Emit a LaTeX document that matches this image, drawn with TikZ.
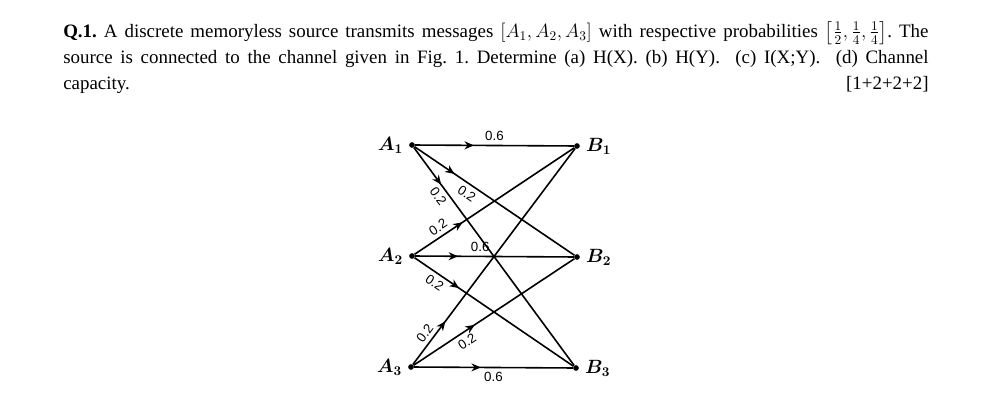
\documentclass[tikz,border=0pt]{standalone}
\usepackage{fontspec}
\setmainfont{Liberation Serif}
\newfontfamily\labfont{Liberation Sans}
\usepackage{amsmath}
\usetikzlibrary{arrows.meta,positioning,decorations.markings}
\tikzset{
  link/.style={line width=1.2pt, postaction={decorate}, decoration={markings,
      mark=at position #1 with {\arrow{Stealth[length=7pt,width=6pt]}}}},
  prob/.style={font=\labfont\fontsize{10}{11}\selectfont, inner sep=3pt},
  term/.style={circle, fill, inner sep=1.5pt},
}
\begin{document}
\begin{tikzpicture}[x=0.75pt, y=-0.75pt]
    \useasboundingbox (0,0) rectangle (991,410);

    % Question text
    \node[anchor=north west, inner sep=0pt, font=\fontsize{14.2}{19.5}\selectfont] (text) at (63,21)
      {\parbox{649pt}{\frenchspacing\textbf{Q.1.} A discrete memoryless source transmits messages $[A_1,A_2,A_3]$ with respective probabilities $\left[\frac{1}{2},\frac{1}{4},\frac{1}{4}\right]$. The\linebreak
      source is connected to the channel given in Fig.~1. Determine (a) H(X). (b) H(Y). \ (c) I(X;Y). \ (d) Channel\linebreak
      capacity.\hfill[1+2+2+2]}};

    % Source and sink points
    \node[term] (a1) at (412,145) {};
    \node[term] (a2) at (412,256) {};
    \node[term] (a3) at (411,367) {};
    \node[term] (b1) at (577,146) {};
    \node[term] (b2) at (577,257) {};
    \node[term] (b3) at (576,368) {};

    \foreach \n/\s in {a1/1, a2/2, a3/3} {
        \node[left=1pt of \n, font=\fontsize{14}{16}\selectfont] {$\boldsymbol{A_{\s}}$};
    }
    \foreach \n/\s in {b1/1, b2/2, b3/3} {
        \node[right=1pt of \n, font=\fontsize{14}{16}\selectfont] {$\boldsymbol{B_{\s}}$};
    }

    % Channel transitions
    \draw[link=0.37] (a1) -- node[prob, above, pos=0.5] {0.6} (b1);
    \draw[link=0.25] (a1) -- node[prob, below, sloped, pos=0.36] {0.2} (b2);
    \draw[link=0.17] (a1) -- node[prob, below, sloped, pos=0.2] {0.2} (b3);
    \draw[link=0.3] (a2) -- node[prob, above, sloped, pos=0.18] {0.2} (b1);
    \draw[link=0.27] (a2) -- node[prob, above, pos=0.41] {0.6} (b2);
    \draw[link=0.28] (a2) -- node[prob, below, sloped, pos=0.16] {0.2} (b3);
    \draw[link=0.2] (a3) -- node[prob, above, sloped, pos=0.12] {0.2} (b1);
    \draw[link=0.38] (a3) -- node[prob, below, sloped, pos=0.3] {0.2} (b2);
    \draw[link=0.42] (a3) -- node[prob, below, pos=0.5] {0.6} (b3);
\end{tikzpicture}
\end{document}
